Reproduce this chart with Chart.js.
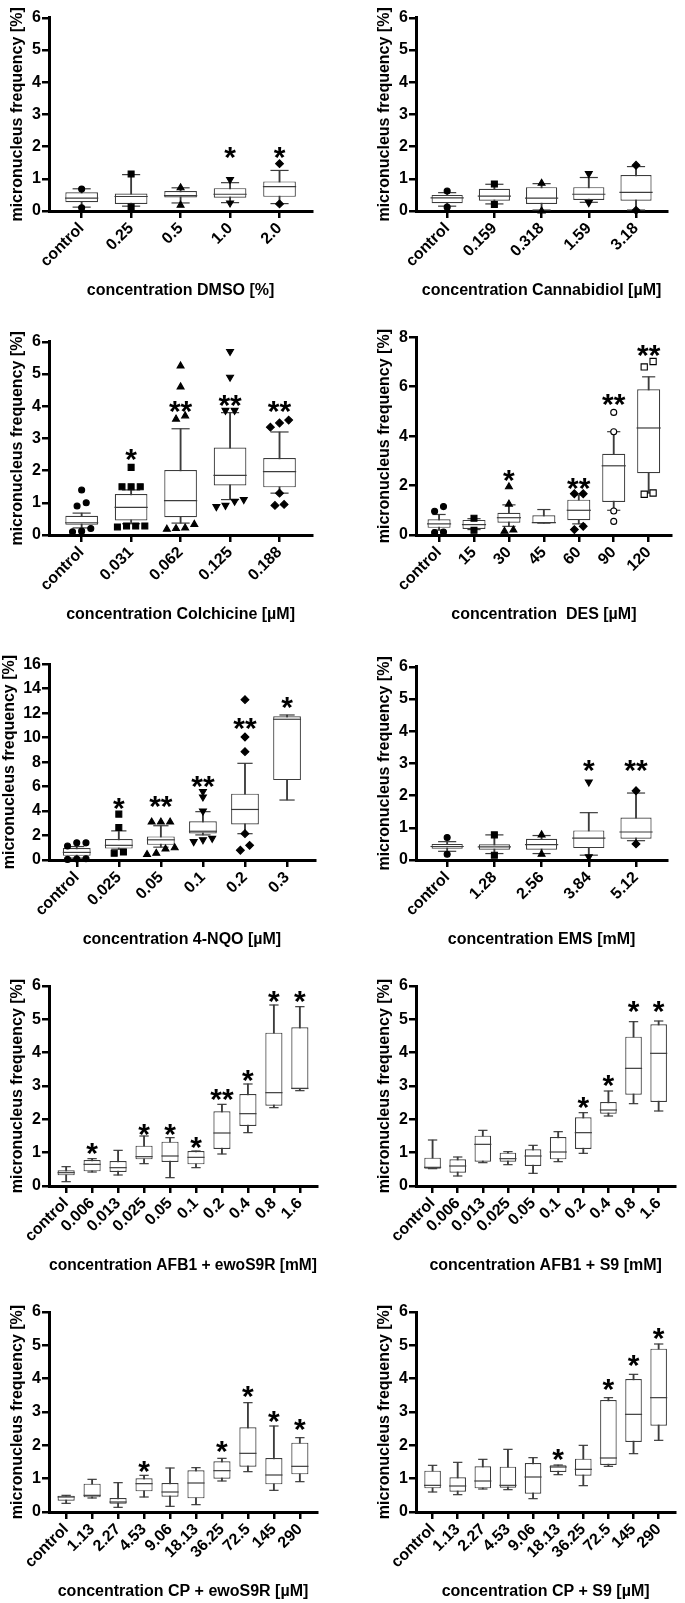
<!DOCTYPE html>
<html>
<head>
<meta charset="utf-8">
<script src="https://cdn.jsdelivr.net/npm/chart.js@4.4.1/dist/chart.umd.min.js"></script>
<style>
html,body{margin:0;padding:0;background:#fff;}
body{width:685px;height:1603px;position:relative;overflow:hidden;}
canvas{position:absolute;}
</style>
</head>
<body>
<script>
// ---------- DATA ----------
const yTitle = 'micronucleus frequency [%]';

const dmsoTitle = 'concentration DMSO [%]';
const dmsoCats = ['control','0.25','0.5','1.0','2.0'];
const dmsoLo  = [0.12, 0.15, 0.25, 0.26, 0.23];
const dmsoQ1  = [0.27, 0.22, 0.42, 0.41, 0.44];
const dmsoMed = [0.40, 0.45, 0.48, 0.52, 0.76];
const dmsoQ3  = [0.58, 0.54, 0.62, 0.71, 0.92];
const dmsoHi  = [0.69, 1.13, 0.72, 0.88, 1.26];
const dmsoOut = [[0.68, 0.10],[1.15, 0.12],[0.72, 0.18],[0.98, 0.25],[1.47, 0.22]];
const dmsoStars = ['', '', '', '*', '*'];
const dmsoStarY = [0, 0, 0, 1.87, 1.87];

const cbdTitle = 'concentration Cannabidiol [µM]';
const cbdCats = ['control','0.159','0.318','1.59','3.18'];
const cbdLo  = [0.15, 0.22, 0.03, 0.27, 0.03];
const cbdQ1  = [0.24, 0.32, 0.22, 0.34, 0.32];
const cbdMed = [0.41, 0.46, 0.40, 0.52, 0.58];
const cbdQ3  = [0.50, 0.69, 0.74, 0.74, 1.12];
const cbdHi  = [0.57, 0.83, 0.85, 1.04, 1.38];
const cbdOut = [[0.62, 0.12],[0.84, 0.20],[0.86, 0.0],[1.16, 0.26],[1.42, 0.02]];
const cbdStars = ['', '', '', '', ''];
const cbdStarY = [0, 0, 0, 0, 0];

const colTitle = 'concentration Colchicine [µM]';
const colCats = ['control','0.031','0.062','0.125','0.188'];
const colLo  = [0.22, 0.35, 0.37, 1.10, 1.30];
const colQ1  = [0.32, 0.45, 0.55, 1.54, 1.48];
const colMed = [0.38, 0.86, 1.07, 1.85, 1.97];
const colQ3  = [0.60, 1.27, 2.02, 2.72, 2.39];
const colHi  = [0.68, 1.40, 3.30, 3.80, 3.20];
const colOut = [[1.4, 1.0, 0.9, 0.2, 0.12, 0.1],
                [2.1, 1.5, 1.5, 1.5, 0.28, 0.28, 0.28, 0.25],
                [5.25, 4.6, 3.7, 3.6, 0.33, 0.22, 0.2, 0.18],
                [5.7, 4.9, 3.87, 3.87, 1.1, 1.05, 0.92, 0.88],
                [3.57, 3.48, 3.35, 1.3, 0.95, 0.92]];
const colStars = ['', '*', '**', '**', '**'];
const colStarY = [0, 2.57, 4.06, 4.24, 4.06];

const desTitle = 'concentration  DES [µM]';
const desCats = ['control','15','30','45','60','90','120'];
const desLo  = [0.20, 0.22, 0.35, 0.48, 0.45, 1.00, 1.70];
const desQ1  = [0.29, 0.24, 0.50, 0.48, 0.60, 1.34, 2.50];
const desMed = [0.45, 0.42, 0.70, 0.50, 1.00, 2.80, 4.33];
const desQ3  = [0.64, 0.61, 0.90, 0.80, 1.43, 3.29, 5.90];
const desHi  = [0.83, 0.66, 1.22, 1.03, 1.62, 4.18, 6.40];
const desOut = [[1.15, 0.96, 0.12, 0.1],[0.68, 0.19],[1.95, 1.25, 0.2, 0.15],[],
                [1.67, 1.67, 0.35, 0.22],[4.96, 4.18, 0.97, 0.55],[7.02, 6.8, 1.7, 1.65]];
const desStars = ['', '', '*', '', '**', '**', '**'];
const desStarY = [0, 0, 2.49, 0, 2.16, 5.54, 7.56];

const nqoTitle = 'concentration 4-NQO [µM]';
const nqoCats = ['control','0.025','0.05','0.1','0.2','0.3'];
const nqoLo  = [0.15, 0.88, 1.05, 2.05, 2.15, 4.90];
const nqoQ1  = [0.34, 0.93, 1.24, 2.17, 2.91, 6.53];
const nqoMed = [0.62, 1.20, 1.65, 2.35, 4.13, 11.5];
const nqoQ3  = [0.98, 1.72, 1.93, 3.17, 5.42, 11.75];
const nqoHi  = [1.10, 2.38, 2.80, 3.95, 7.90, 11.85];
const nqoOut = [[1.4, 1.4, 1.15, 0.1, 0.08, 0.05],[3.75, 2.65, 0.65, 0.55],
                [3.1, 3.1, 3.1, 1.0, 0.9, 0.55, 0.45],[5.6, 5.15, 4.0, 1.77, 1.65, 1.5],
                [13.1, 10.05, 8.85, 2.15, 1.2, 0.8],[]];
const nqoStars = ['', '*', '**', '**', '**', '*'];
const nqoStarY = [0, 4.8, 4.9, 6.6, 11.3, 13.0];

const emsTitle = 'concentration EMS [mM]';
const emsCats = ['control','1.28','2.56','3.84','5.12'];
const emsLo  = [0.27, 0.20, 0.20, 0.15, 0.60];
const emsQ1  = [0.35, 0.32, 0.32, 0.37, 0.66];
const emsMed = [0.42, 0.41, 0.48, 0.68, 0.87];
const emsQ3  = [0.50, 0.49, 0.66, 0.92, 1.32];
const emsHi  = [0.57, 0.78, 0.76, 1.47, 2.08];
const emsOut = [[0.7, 0.18],[0.78, 0.15],[0.78, 0.18],[2.42, 0.1],[2.15, 0.5]];
const emsStars = ['', '', '', '*', '**'];
const emsStarY = [0, 0, 0, 2.98, 2.98];

const afbCats = ['control','0.006','0.013','0.025','0.05','0.1','0.2','0.4','0.8','1.6'];

const afbeTitle = 'concentration AFB1 + ewoS9R [mM]';
const afbeLo  = [0.13, 0.42, 0.33, 0.67, 0.25, 0.55, 0.96, 1.60, 2.35, 2.86];
const afbeQ1  = [0.32, 0.44, 0.42, 0.80, 0.72, 0.65, 1.11, 1.80, 2.41, 2.90];
const afbeMed = [0.40, 0.65, 0.55, 0.88, 0.90, 0.86, 1.59, 2.17, 2.80, 2.93];
const afbeQ3  = [0.47, 0.78, 0.75, 1.21, 1.33, 1.05, 2.24, 2.76, 4.60, 4.76];
const afbeHi  = [0.58, 0.82, 1.07, 1.50, 1.45, 1.05, 2.45, 3.06, 5.43, 5.38];
const afbeStars = ['', '*', '', '*', '*', '*', '**', '*', '*', '*'];
const afbeStarY = [0, 1.18, 0, 1.76, 1.76, 1.36, 2.79, 3.38, 5.75, 5.75];

const afbsTitle = 'concentration AFB1 + S9 [mM]';
const afbsLo  = [0.52, 0.30, 0.70, 0.64, 0.38, 0.73, 0.98, 2.10, 2.47, 2.25];
const afbsQ1  = [0.52, 0.40, 0.73, 0.73, 0.60, 0.80, 1.11, 2.17, 2.74, 2.52];
const afbsMed = [0.56, 0.60, 1.25, 0.82, 0.90, 1.02, 1.60, 2.28, 3.53, 3.98];
const afbsQ3  = [0.85, 0.80, 1.51, 1.00, 1.10, 1.47, 2.06, 2.52, 4.48, 4.85];
const afbsHi  = [1.38, 0.87, 1.67, 1.03, 1.22, 1.63, 2.20, 2.85, 4.93, 4.95];
const afbsStars = ['', '', '', '', '', '', '*', '*', '*', '*'];
const afbsStarY = [0, 0, 0, 0, 0, 0, 2.56, 3.21, 5.44, 5.44];

const cpCats = ['control','1.13','2.27','4.53','9.06','18.13','36.25','72.5','145','290'];

const cpeTitle = 'concentration CP + ewoS9R [µM]';
const cpeLo  = [0.26, 0.42, 0.14, 0.45, 0.17, 0.22, 0.93, 1.21, 0.65, 0.91];
const cpeQ1  = [0.34, 0.44, 0.25, 0.62, 0.46, 0.41, 1.00, 1.36, 0.83, 1.13];
const cpeMed = [0.45, 0.50, 0.30, 0.85, 0.60, 0.87, 1.24, 1.76, 1.11, 1.37];
const cpeQ3  = [0.49, 0.85, 0.42, 1.01, 0.87, 1.25, 1.52, 2.54, 1.62, 2.08];
const cpeHi  = [0.50, 0.98, 0.88, 1.10, 1.32, 1.33, 1.61, 3.28, 2.58, 2.23];
const cpeStars = ['', '', '', '*', '', '', '*', '*', '*', '*'];
const cpeStarY = [0, 0, 0, 1.42, 0, 0, 2.03, 3.66, 2.91, 2.67];

const cpsTitle = 'concentration CP + S9 [µM]';
const cpsLo  = [0.60, 0.52, 0.69, 0.67, 0.40, 1.12, 0.79, 1.37, 1.75, 2.15];
const cpsQ1  = [0.71, 0.61, 0.71, 0.73, 0.55, 1.20, 1.09, 1.41, 2.10, 2.59];
const cpsMed = [0.80, 0.78, 0.93, 0.80, 1.05, 1.35, 1.28, 1.62, 2.93, 3.43];
const cpsQ3  = [1.24, 1.04, 1.37, 1.36, 1.47, 1.40, 1.60, 3.36, 3.99, 4.90];
const cpsHi  = [1.40, 1.49, 1.58, 1.88, 1.63, 1.41, 2.00, 3.43, 4.13, 5.04];
const cpsStars = ['', '', '', '', '', '*', '', '*', '*', '*'];
const cpsStarY = [0, 0, 0, 0, 0, 1.77, 0, 3.89, 4.59, 5.42];

const noOut10 = [[],[],[],[],[],[],[],[],[],[]];

const panels = [
  {title: dmsoTitle, cats: dmsoCats, lo: dmsoLo, q1: dmsoQ1, med: dmsoMed, q3: dmsoQ3, hi: dmsoHi, out: dmsoOut, stars: dmsoStars, starY: dmsoStarY, yMax: 6, step: 1},
  {title: cbdTitle, cats: cbdCats, lo: cbdLo, q1: cbdQ1, med: cbdMed, q3: cbdQ3, hi: cbdHi, out: cbdOut, stars: cbdStars, starY: cbdStarY, yMax: 6, step: 1},
  {title: colTitle, cats: colCats, lo: colLo, q1: colQ1, med: colMed, q3: colQ3, hi: colHi, out: colOut, stars: colStars, starY: colStarY, yMax: 6, step: 1},
  {title: desTitle, cats: desCats, lo: desLo, q1: desQ1, med: desMed, q3: desQ3, hi: desHi, out: desOut, stars: desStars, starY: desStarY, yMax: 8, step: 2},
  {title: nqoTitle, cats: nqoCats, lo: nqoLo, q1: nqoQ1, med: nqoMed, q3: nqoQ3, hi: nqoHi, out: nqoOut, stars: nqoStars, starY: nqoStarY, yMax: 16, step: 2},
  {title: emsTitle, cats: emsCats, lo: emsLo, q1: emsQ1, med: emsMed, q3: emsQ3, hi: emsHi, out: emsOut, stars: emsStars, starY: emsStarY, yMax: 6, step: 1},
  {title: afbeTitle, cats: afbCats, lo: afbeLo, q1: afbeQ1, med: afbeMed, q3: afbeQ3, hi: afbeHi, out: noOut10, stars: afbeStars, starY: afbeStarY, yMax: 6, step: 1},
  {title: afbsTitle, cats: afbCats, lo: afbsLo, q1: afbsQ1, med: afbsMed, q3: afbsQ3, hi: afbsHi, out: noOut10, stars: afbsStars, starY: afbsStarY, yMax: 6, step: 1},
  {title: cpeTitle, cats: cpCats, lo: cpeLo, q1: cpeQ1, med: cpeMed, q3: cpeQ3, hi: cpeHi, out: noOut10, stars: cpeStars, starY: cpeStarY, yMax: 6, step: 1},
  {title: cpsTitle, cats: cpCats, lo: cpsLo, q1: cpsQ1, med: cpsMed, q3: cpsQ3, hi: cpsHi, out: noOut10, stars: cpsStars, starY: cpsStarY, yMax: 6, step: 1}
];

// ---------- LAYOUT / STYLE ----------
const ROW_TOP = [0, 324, 649, 975, 1301];
const COL_LEFT = [0, 367];
const CANVAS_W = [330, 318];
const CANVAS_H = 300;
const Y_AXIS_W = 49;
const AXIS_W = 268;
const PLOT_H = 200;
const PAD_TOP = 11;
const PAD_CAT = 0.66;
const BOX_FRAC = 0.66;
const CAP_FRAC = 0.36;
const JIT_PX = 9.3;
const LINE = '#3c3c3c';
const FONT = "'Liberation Sans', Arial, Helvetica, sans-serif";
const MARK = [
  {s: 'circle',   r: 3.0, rot: 0,   fill: '#000'},
  {s: 'rect',     r: 4.2, rot: 0,   fill: '#000'},
  {s: 'triangle', r: 4.0, rot: 0,   fill: '#000'},
  {s: 'triangle', r: 4.0, rot: 180, fill: '#000'},
  {s: 'rectRot',  r: 3.9, rot: 0,   fill: '#000'},
  {s: 'circle',   r: 3.0, rot: 0,   fill: '#fff'},
  {s: 'rect',     r: 4.4, rot: 0,   fill: '#fff'}
];
const mk = ctx => MARK[(ctx.raw && ctx.raw.c) || 0];

Chart.defaults.font.family = FONT;
Chart.defaults.color = '#000';

panels.forEach((p, k) => {
  const row = Math.floor(k / 2), col = k % 2;
  const cw = CANVAS_W[col];
  const cv = document.createElement('canvas');
  cv.width = cw; cv.height = CANVAS_H;
  cv.style.left = COL_LEFT[col] + 'px';
  cv.style.top = ROW_TOP[row] + 'px';
  cv.style.width = cw + 'px';
  cv.style.height = CANVAS_H + 'px';
  document.body.appendChild(cv);

  const n = p.cats.length;
  const pxPerCat = AXIS_W / (n - 1 + 2 * PAD_CAT);
  const pxPerUnit = PLOT_H / p.yMax;

  // spread coincident outliers horizontally (like the original plot)
  const outPts = [];
  p.out.forEach((vals, i) => {
    const s = vals.slice().sort((a, b) => a - b);
    const groups = []; let g = [];
    s.forEach(v => {
      if (g.length && (v - g[g.length - 1]) * pxPerUnit >= 5.5) { groups.push(g); g = []; }
      g.push(v);
    });
    if (g.length) groups.push(g);
    groups.forEach(gr => gr.forEach((v, j) => {
      outPts.push({x: i + (j - (gr.length - 1) / 2) * JIT_PX / pxPerCat, y: v, c: i});
    }));
  });

  const capPts = [];
  p.cats.forEach((c, i) => { capPts.push({x: i, y: p.lo[i]}); capPts.push({x: i, y: p.hi[i]}); });

  const datasets = [
    {type: 'bar', data: p.cats.map((c, i) => ({x: i, y: [p.lo[i], p.hi[i]]})),
     backgroundColor: LINE, borderWidth: 0, barThickness: 1.2, grouped: false, order: 5},
    {type: 'bar', data: p.cats.map((c, i) => ({x: i, y: [p.q1[i], p.q3[i]]})),
     backgroundColor: '#fff', borderColor: LINE, borderWidth: 1.2, borderSkipped: false,
     grouped: false, categoryPercentage: 1, barPercentage: BOX_FRAC, order: 4},
    {type: 'scatter', data: p.cats.map((c, i) => ({x: i, y: p.med[i]})),
     pointStyle: 'line', pointRadius: BOX_FRAC / 2 * pxPerCat, pointBorderColor: LINE,
     pointBorderWidth: 1.2, clip: false, order: 3},
    {type: 'scatter', data: capPts,
     pointStyle: 'line', pointRadius: CAP_FRAC / 2 * pxPerCat, pointBorderColor: LINE,
     pointBorderWidth: 1.2, clip: false, order: 2},
    {type: 'scatter', data: outPts,
     pointStyle: ctx => mk(ctx).s,
     pointRotation: ctx => mk(ctx).rot,
     pointRadius: ctx => mk(ctx).r,
     pointBackgroundColor: ctx => mk(ctx).fill,
     pointBorderColor: '#000', pointBorderWidth: 1.1, clip: false, order: 1}
  ];

  const starPlugin = {
    id: 'stars' + k,
    afterDatasetsDraw(chart) {
      const {ctx, scales} = chart;
      ctx.save();
      ctx.fillStyle = '#000';
      ctx.font = 'bold 30px ' + FONT;
      ctx.textAlign = 'center';
      ctx.textBaseline = 'alphabetic';
      p.stars.forEach((t, i) => {
        if (!t) return;
        const x = scales.x.getPixelForValue(i);
        const y = scales.y.getPixelForValue(p.starY[i]);
        ctx.fillText(t, x, y + 16.4);
      });
      ctx.restore();
    }
  };

  const gridOpts = {display: true, drawOnChartArea: false, offset: false, tickLength: 7,
                    tickWidth: 2.5, lineWidth: 2.5, tickColor: '#000', color: '#000'};
  const borderOpts = {display: true, color: '#000', width: 3};

  new Chart(cv, {
    type: 'scatter',
    data: {datasets},
    options: {
      responsive: false, animation: false, events: [],
      layout: {padding: {left: 0, right: cw - Y_AXIS_W - AXIS_W, top: PAD_TOP, bottom: 0}},
      plugins: {legend: {display: false}, tooltip: {enabled: false}},
      scales: {
        x: {
          type: 'linear', min: -PAD_CAT, max: n - 1 + PAD_CAT, offset: false,
          afterBuildTicks: s => { s.ticks = p.cats.map((c, i) => ({value: i})); },
          afterFit: s => { s.height = CANVAS_H - PAD_TOP - PLOT_H; },
          grid: gridOpts, border: borderOpts,
          ticks: {autoSkip: false, maxRotation: 45, minRotation: 45, padding: 1, color: '#000',
                  font: {size: 16, weight: 'bold'}, callback: v => p.cats[v]},
          title: {display: true, text: p.title, color: '#000',
                  font: {size: 16, weight: 'bold', lineHeight: 1.2}, padding: {top: 0, bottom: 0}}
        },
        y: {
          type: 'linear', min: 0, max: p.yMax,
          afterFit: s => { s.width = Y_AXIS_W; },
          grid: gridOpts, border: borderOpts,
          ticks: {stepSize: p.step, padding: 1, color: '#000', font: {size: 16, weight: 'bold'}},
          title: {display: true, text: yTitle, color: '#000',
                  font: {size: 16, weight: 'bold', lineHeight: 1.2},
                  padding: {top: p.yMax >= 10 ? 0 : 8, bottom: 0}}
        }
      }
    },
    plugins: [starPlugin]
  });
});
</script>
</body>
</html>
